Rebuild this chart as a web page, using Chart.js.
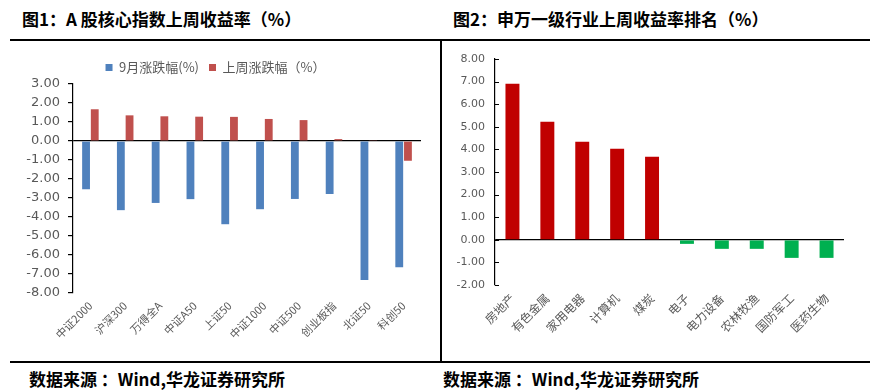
<!DOCTYPE html>
<html>
<head>
<meta charset="utf-8">
<script src="https://cdn.jsdelivr.net/npm/chart.js@4.4.0/dist/chart.umd.min.js"></script>
<style>
body { margin: 0; width: 881px; height: 392px; background: #fff; position: relative; overflow: hidden; font-family: "Noto Sans CJK SC", sans-serif; }
.t { position: absolute; top: 6px; font-weight: bold; font-size: 17px; color: #000; white-space: nowrap; }
.f { position: absolute; top: 366px; font-weight: bold; font-size: 17px; color: #000; white-space: nowrap; }
.line { position: absolute; background: #000; }
.wrap { position: absolute; top: 41px; height: 320px; }
</style>
</head>
<body>
<div class="t" style="left:22px">图1：A 股核心指数上周收益率（%）</div>
<div class="t" style="left:453px">图2：申万一级行业上周收益率排名（%）</div>
<div class="line" style="left:10px;top:39px;width:860px;height:2px"></div>
<div class="line" style="left:440px;top:40px;width:1.5px;height:322px"></div>
<div class="line" style="left:10px;top:361px;width:860px;height:2px"></div>
<div class="wrap" style="left:10px;width:430px"><canvas id="c1" width="430" height="320"></canvas></div>
<div class="wrap" style="left:441px;width:434px"><canvas id="c2" width="434" height="320"></canvas></div>
<div class="f" style="left:29px">数据来源 ：Wind,华龙证券研究所</div>
<div class="f" style="left:443px">数据来源 ：Wind,华龙证券研究所</div>
<script>
// 图1 数据
const indexNames = ['中证2000', '沪深300', '万得全A', '中证A50', '上证50', '中证1000', '中证500', '创业板指', '北证50', '科创50'];
const septChange = [-2.54, -3.64, -3.26, -3.06, -4.38, -3.59, -3.05, -2.79, -7.32, -6.64];
const lastWeekChange = [1.67, 1.35, 1.30, 1.28, 1.27, 1.16, 1.10, 0.10, 0.02, -1.04];

// 图2 数据
const industries = ['房地产', '有色金属', '家用电器', '计算机', '煤炭', '电子', '电力设备', '农林牧渔', '国防军工', '医药生物'];
const industryReturn = [6.90, 5.22, 4.34, 4.03, 3.67, -0.18, -0.40, -0.40, -0.80, -0.80];

const grey = '#595959';
const zeroLine = ctx => (ctx.tick && ctx.tick.value === 0) ? '#000' : 'rgba(0,0,0,0)';

new Chart(document.getElementById('c1'), {
    type: 'bar',
    data: {
        labels: indexNames,
        datasets: [
            { label: '9月涨跌幅(%)', data: septChange, backgroundColor: '#4F81BD', categoryPercentage: 0.5, barPercentage: 0.9 },
            { label: '上周涨跌幅（%）', data: lastWeekChange, backgroundColor: '#C0504D', categoryPercentage: 0.5, barPercentage: 0.9 }
        ]
    },
    options: {
        responsive: false,
        animation: false,
        layout: { padding: { top: 10, right: 19, left: 0, bottom: 0 } },
        plugins: {
            legend: {
                position: 'top',
                labels: { boxWidth: 7, boxHeight: 7, color: grey, padding: 10, font: { size: 13, family: 'Noto Sans CJK SC' } }
            },
            tooltip: { enabled: false }
        },
        scales: {
            x: {
                grid: { display: false, drawTicks: false },
                border: { display: false },
                ticks: { color: grey, minRotation: 45, maxRotation: 45, padding: 6, autoSkip: false, font: { size: 11, family: 'Noto Sans CJK SC' } },
                afterFit: s => { s.height = 68; }
            },
            y: {
                min: -8, max: 3,
                ticks: { stepSize: 1, color: grey, padding: 8, font: { size: 13, family: 'DejaVu Sans' }, callback: v => v.toFixed(2) },
                grid: { color: zeroLine, lineWidth: 1.2, drawTicks: true, tickLength: 5, tickColor: '#000' },
                border: { display: true, color: '#000', width: 1.2 },
                afterFit: s => { s.width = 63; }
            }
        }
    }
});

const tickIn = {
    id: 'tickIn',
    afterDraw(chart) {
        const y = chart.scales.y, c = chart.ctx;
        c.save();
        c.strokeStyle = '#000';
        c.lineWidth = 1;
        y.ticks.forEach(t => {
            const py = Math.round(y.getPixelForValue(t.value)) + 0.5;
            c.beginPath();
            c.moveTo(y.right, py);
            c.lineTo(y.right + 4, py);
            c.stroke();
        });
        c.restore();
    }
};

new Chart(document.getElementById('c2'), {
    type: 'bar',
    data: {
        labels: industries,
        datasets: [{
            data: industryReturn,
            backgroundColor: industryReturn.map(v => v >= 0 ? '#C00000' : '#00B050'),
            categoryPercentage: 0.4, barPercentage: 1
        }]
    },
    options: {
        responsive: false,
        animation: false,
        layout: { padding: { top: 18, right: 31, left: 0, bottom: 0 } },
        plugins: { legend: { display: false }, tooltip: { enabled: false } },
        scales: {
            x: {
                grid: { display: false, drawTicks: false },
                border: { display: false },
                ticks: { color: grey, minRotation: 45, maxRotation: 45, padding: 6, autoSkip: false, font: { size: 12, family: 'Noto Sans CJK SC' } },
                afterFit: s => { s.height = 76; }
            },
            y: {
                min: -2, max: 8,
                ticks: { stepSize: 1, color: grey, padding: 10, font: { size: 11, family: 'DejaVu Sans' }, callback: v => v.toFixed(2) },
                grid: { color: zeroLine, lineWidth: 1.2, drawTicks: false },
                border: { display: true, color: '#000', width: 1.2 },
                afterFit: s => { s.width = 54; }
            }
        }
    },
    plugins: [tickIn]
});
</script>
</body>
</html>
